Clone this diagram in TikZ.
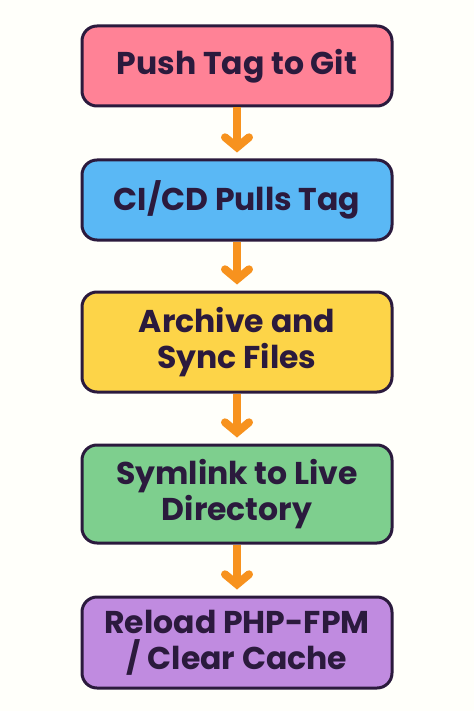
\documentclass[tikz,border=0pt]{standalone}
\usepackage{fontspec}
\setmainfont{Poppins}
\usepackage{tikz}
\usetikzlibrary{shapes,arrows,arrows.meta}
\usepackage{xcolor}

\definecolor{ink}{RGB}{43,26,61}
\definecolor{pushpink}{RGB}{255,130,150}
\definecolor{cdblue}{RGB}{90,184,245}
\definecolor{syncyellow}{RGB}{253,212,72}
\definecolor{linkgreen}{RGB}{126,207,142}
\definecolor{reloadpurple}{RGB}{192,139,224}
\definecolor{flow}{RGB}{247,146,30}

\begin{document}
\begin{tikzpicture}[x=1pt,y=-1pt]
\tikzstyle{every node}=[font=\fontsize{31.5}{36}\selectfont\bfseries]
\tikzstyle{stagebox}=[draw=ink, line width=3pt, rounded corners=15pt, text=ink, minimum width=310pt, align=center, inner sep=0pt]
\tikzstyle{flowarrow}=[draw=flow, line width=8pt, -{Straight Barb[length=10pt,width=24pt,line cap=round]}]
\fill[white!98!yellow] (0,0) rectangle (474,711);
\useasboundingbox (0,0) rectangle (474,711);
\node [stagebox, fill=pushpink, minimum height=80pt] (push) at (237,66) {Push Tag to Git};
\node [stagebox, fill=cdblue, minimum height=80pt] (pull) at (237,200) {CI/CD Pulls Tag};
\node [stagebox, fill=syncyellow, minimum height=100pt] (sync) at (237,342) {Archive and\\Sync Files};
\node [stagebox, fill=linkgreen, minimum height=98pt] (link) at (237,494) {Symlink to Live\\Directory};
\node [stagebox, fill=reloadpurple, minimum height=91pt] (reload) at (237,642.5) {Reload PHP-FPM\\/ Clear Cache};
\draw [flowarrow] (push) -- ([yshift=6pt]pull.north);
\draw [flowarrow] (pull) -- ([yshift=6pt]sync.north);
\draw [flowarrow] (sync) -- ([yshift=6pt]link.north);
\draw [flowarrow] (link) -- ([yshift=6pt]reload.north);
\end{tikzpicture}
\end{document}
